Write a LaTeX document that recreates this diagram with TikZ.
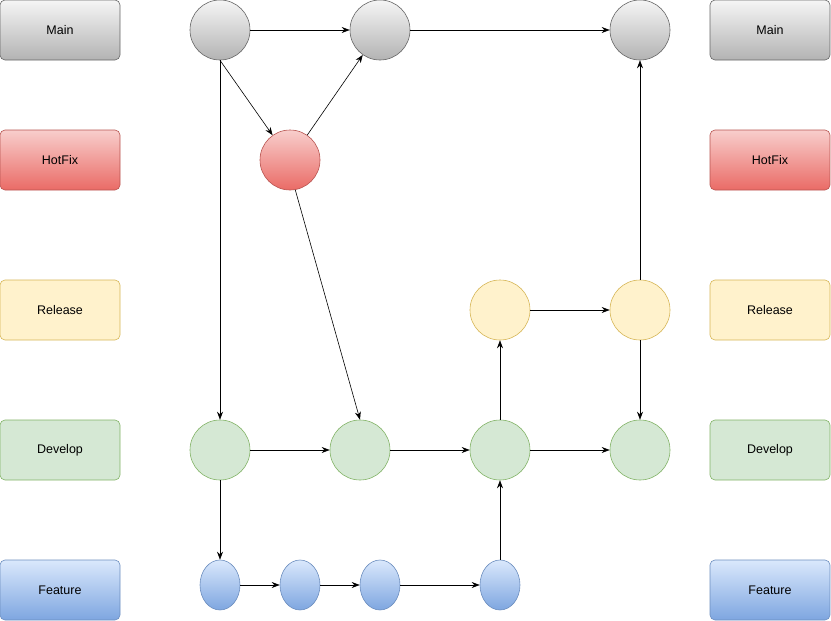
\documentclass[tikz,border=0pt]{standalone}
\usepackage{fontspec}
\setmainfont{Liberation Sans}
\usetikzlibrary{arrows.meta}
\definecolor{gS}{HTML}{666666}\definecolor{gT}{HTML}{F5F5F5}\definecolor{gB}{HTML}{B3B3B3}
\definecolor{rS}{HTML}{B85450}\definecolor{rT}{HTML}{F8CECC}\definecolor{rB}{HTML}{EA6B66}
\definecolor{yS}{HTML}{D6B656}\definecolor{yF}{HTML}{FFF2CC}
\definecolor{nS}{HTML}{82B366}\definecolor{nF}{HTML}{D5E8D4}
\definecolor{bS}{HTML}{6C8EBF}\definecolor{bT}{HTML}{DAE8FC}\definecolor{bB}{HTML}{7EA6E0}
\tikzset{
 lbl/.style={draw,rounded corners=5pt,minimum width=120pt,minimum height=60pt,font=\fontsize{12.5}{14}\selectfont,line width=0.6pt},
 gr/.style={top color=gT,bottom color=gB,draw=gS},
 rd/.style={top color=rT,bottom color=rB,draw=rS},
 yl/.style={fill=yF,draw=yS},
 gn/.style={fill=nF,draw=nS},
 bl/.style={top color=bT,bottom color=bB,draw=bS},
 cir/.style={circle,minimum size=60pt,inner sep=0pt,line width=0.6pt},
 ell/.style={ellipse,minimum width=40pt,minimum height=50pt,inner sep=0pt,line width=0.6pt},
 ar/.style={-{Stealth[length=8pt,width=6pt]},line width=0.6pt}
}
\usetikzlibrary{shapes.geometric}
\begin{document}
\begin{tikzpicture}[x=1pt,y=-1pt]
\useasboundingbox (0,0) rectangle (831,621);
\foreach \y/\t/\s/\k in {30/Main/gr/a,160/HotFix/rd/b,310/Release/yl/c,450/Develop/gn/d,590/Feature/bl/e}{
 \node[lbl,\s] (L\k) at (60,\y) {\t};
 \node[lbl,\s] (R\k) at (770,\y) {\t};
}
\node[cir,gr] (m1) at (220,30) {};
\node[cir,gr] (m2) at (380,30) {};
\node[cir,gr] (m3) at (640,30) {};
\node[cir,rd] (h) at (290,160) {};
\node[cir,yl] (r1) at (500,310) {};
\node[cir,yl] (r2) at (640,310) {};
\node[cir,gn] (d1) at (220,450) {};
\node[cir,gn] (d2) at (360,450) {};
\node[cir,gn] (d3) at (500,450) {};
\node[cir,gn] (d4) at (640,450) {};
\node[ell,bl] (f1) at (220,585) {};
\node[ell,bl] (f2) at (300,585) {};
\node[ell,bl] (f3) at (380,585) {};
\node[ell,bl] (f4) at (500,585) {};
\draw[ar] (m1) -- (m2);
\draw[ar] (m2) -- (m3);
\draw[ar] (m1.south) -- (h);
\draw[ar] (h) -- (m2);
\draw[ar] (m1.south) -- (d1.north);
\draw[ar] (h.-80) -- (d2.north);
\draw[ar] (d1) -- (d2);
\draw[ar] (d2) -- (d3);
\draw[ar] (d3) -- (d4);
\draw[ar] (d1.south) -- (f1.north);
\draw[ar] (f1) -- (f2);
\draw[ar] (f2) -- (f3);
\draw[ar] (f3) -- (f4);
\draw[ar] (f4.north) -- (d3.south);
\draw[ar] (d3.north) -- (r1.south);
\draw[ar] (r1) -- (r2);
\draw[ar] (r2.north) -- (m3.south);
\draw[ar] (r2.south) -- (d4.north);
\end{tikzpicture}
\end{document}
